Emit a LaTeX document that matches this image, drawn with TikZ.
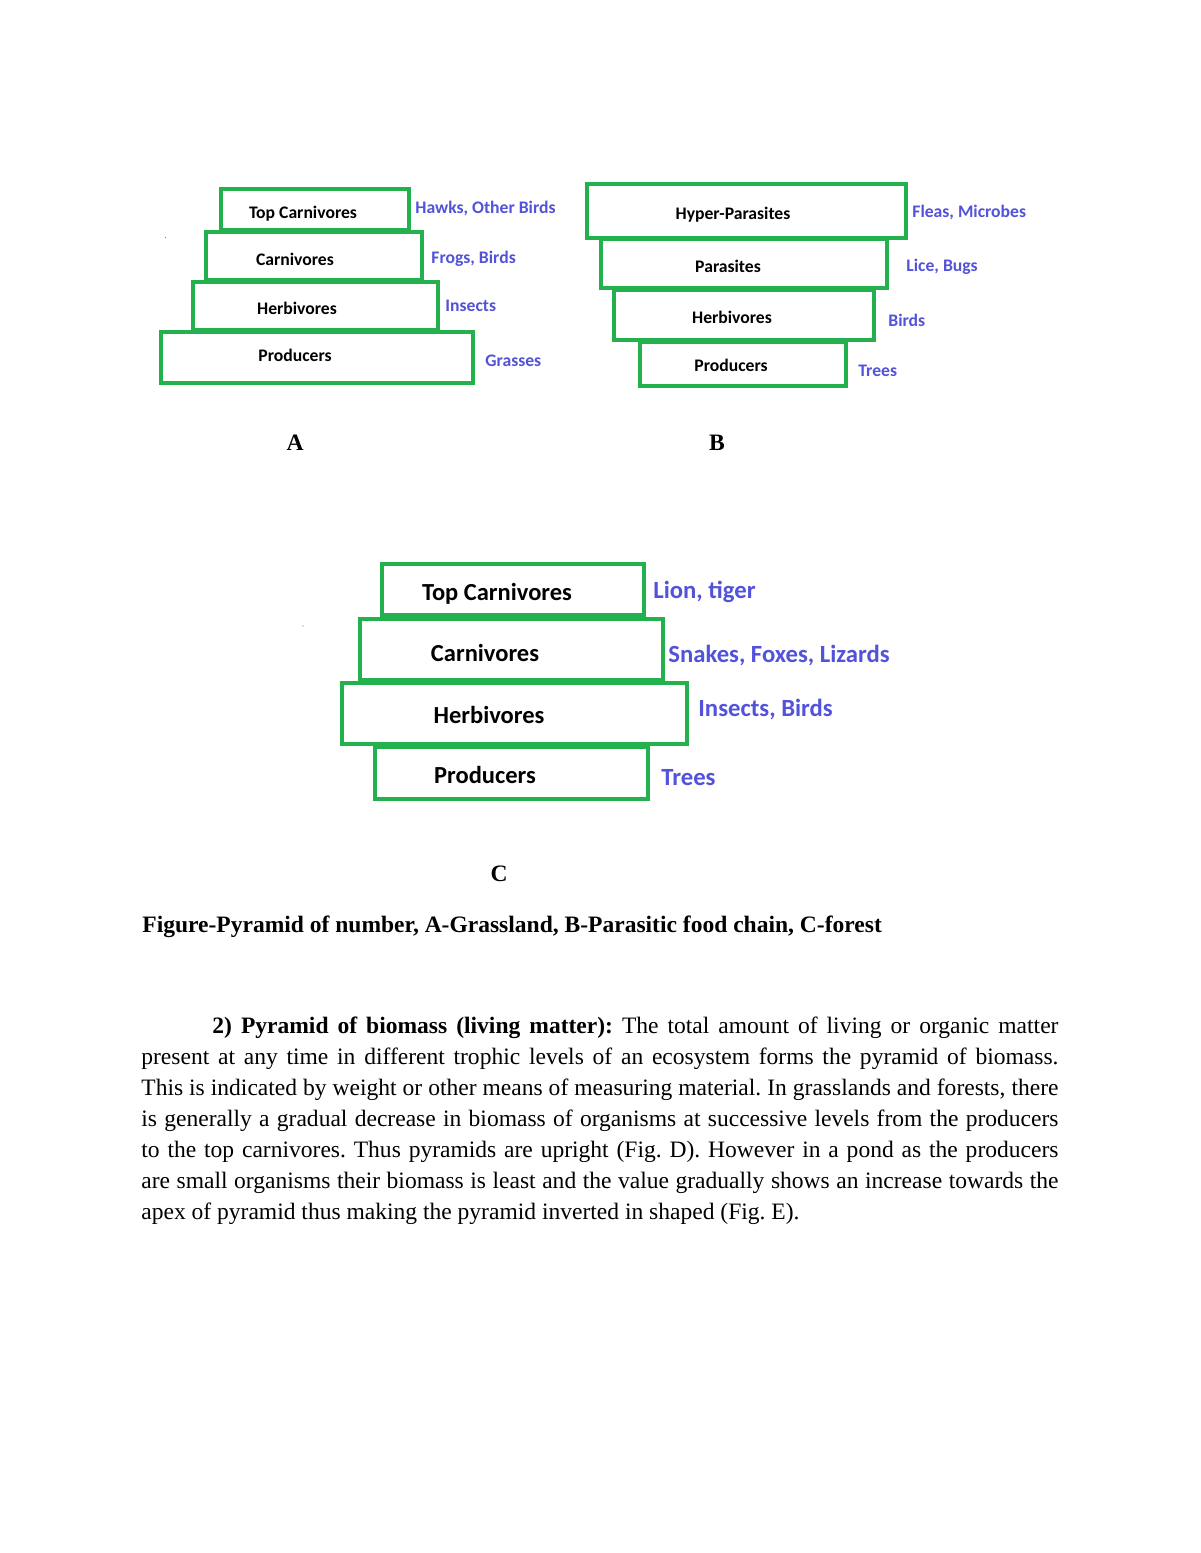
\documentclass[tikz,border=0pt]{standalone}
\usepackage{fontspec}
\setmainfont{Liberation Serif}
\newfontfamily\carl{Carlito}
\definecolor{pgreen}{RGB}{34,177,76}
\definecolor{plabel}{RGB}{82,82,218}
\tikzset{
  pboxA/.style={draw=pgreen, line width=1.7pt, inner sep=0pt},
  pboxC/.style={draw=pgreen, line width=2.1pt, inner sep=0pt},
  ttA/.style={anchor=mid, inner sep=0pt, yshift=-0.8pt, font=\carl\bfseries\fontsize{9}{10}\selectfont},
  lbA/.style={anchor=mid west, inner sep=0pt, yshift=-0.8pt, text=plabel, font=\carl\bfseries\fontsize{9}{10}\selectfont},
  ttC/.style={anchor=mid, inner sep=0pt, yshift=-1.5pt, font=\carl\bfseries\fontsize{12.5}{14}\selectfont},
  lbC/.style={anchor=mid west, inner sep=0pt, yshift=-1.5pt, text=plabel, font=\carl\bfseries\fontsize{12.6}{14}\selectfont},
  fig/.style={anchor=base, inner sep=0pt, font=\bfseries\fontsize{12}{14}\selectfont},
  body/.style={anchor=base west, inner sep=0pt, yshift=-0.8pt, font=\fontsize{12}{15.8}\selectfont\frenchspacing},
}
\newcommand\pbx[6]{\node[#6, minimum width={(#4-#2)*0.51pt}, minimum height={(#5-#3)*0.51pt}] (#1) at ({(#2+#4)/2},{(#3+#5)/2}) {};}
\begin{document}
\begin{tikzpicture}[x=0.51pt,y=-0.51pt]
\useasboundingbox[fill=white] (0,0) rectangle (1200,1553);
% ---------- Pyramid A ----------
\pbx{a1}{221}{189}{409}{230}{pboxA}
\pbx{a2}{206}{232}{422}{280}{pboxA}
\pbx{a3}{193}{282}{438}{330}{pboxA}
\pbx{a4}{161}{332}{473}{383}{pboxA}
\node[ttA] (ta1) at (303,212) {Top Carnivores};
\node[ttA] (ta2) at (295,259) {Carnivores};
\node[ttA] (ta3) at (297,308) {Herbivores};
\node[ttA] (ta4) at (295,355) {Producers};
\node[lbA] (la1) at (415,207) {Hawks, Other Birds};
\node[lbA] (la2) at (431,257) {Frogs, Birds};
\node[lbA] (la3) at (445,305) {Insects};
\node[lbA] (la4) at (485,360) {Grasses};
\fill[pgreen] (165.5,237.5) circle (0.7);
% ---------- Pyramid B ----------
\pbx{b1}{587}{184}{906}{238}{pboxA}
\pbx{b2}{601}{239}{887}{288}{pboxA}
\pbx{b3}{614}{290}{874}{340}{pboxA}
\pbx{b4}{640}{342}{846}{386}{pboxA}
\node[ttA] (tb1) at (733,213) {Hyper-Parasites};
\node[ttA] (tb2) at (728,266) {Parasites};
\node[ttA] (tb3) at (732,317) {Herbivores};
\node[ttA] (tb4) at (731,365) {Producers};
\node[lbA] (lb1) at (912,211) {Fleas, Microbes};
\node[lbA] (lb2) at (906,265) {Lice, Bugs};
\node[lbA] (lb3) at (888,320) {Birds};
\node[lbA] (lb4) at (858,370) {Trees};
% ---------- Pyramid C ----------
\pbx{c1}{382}{564}{644}{615}{pboxC}
\pbx{c4}{375}{747}{648}{799}{pboxC}
\pbx{c2}{360}{619}{663}{680}{pboxC}
\pbx{c3}{342}{683}{687}{744}{pboxC}
\node[ttC] (tc1) at (497,593) {Top Carnivores};
\node[ttC] (tc2) at (485,654) {Carnivores};
\node[ttC] (tc3) at (489,716) {Herbivores};
\node[ttC] (tc4) at (485,776) {Producers};
\node[lbC] (lc1) at (653,591) {Lion, tiger};
\node[lbC] (lc2) at (668,655) {Snakes, Foxes, Lizards};
\node[lbC] (lc3) at (698,709) {Insects, Birds};
\node[lbC] (lc4) at (661,778) {Trees};
\fill[pgreen] (303,626) circle (0.7);
% ---------- letters and caption ----------
\node[fig] (lA) at (295,450) {A};
\node[fig] (lB) at (717,450) {B};
\node[fig] (lC) at (499,881) {C};
\node[fig, anchor=base west] (cap) at (142,932) {Figure-Pyramid of number, A-Grassland, B-Parasitic food chain, C-forest};
% ---------- body text ----------
\node[body] (p1) at (212,1032) {\makebox[431.5pt][s]{\textbf{2) Pyramid of biomass (living matter):} The total amount of living or organic matter}};
\node[body] (p2) at (141,1063) {\makebox[467.7pt][s]{present at any time in different trophic levels of an ecosystem forms the pyramid of biomass.}};
\node[body] (p3) at (141,1094) {\makebox[467.7pt][s]{This is indicated by weight or other means of measuring material. In grasslands and forests, there}};
\node[body] (p4) at (141,1125) {\makebox[467.7pt][s]{is generally a gradual decrease in biomass of organisms at successive levels from the producers}};
\node[body] (p5) at (141,1156) {\makebox[467.7pt][s]{to the top carnivores. Thus pyramids are upright (Fig. D). However in a pond as the producers}};
\node[body] (p6) at (141,1187) {\makebox[467.7pt][s]{are small organisms their biomass is least and the value gradually shows an increase towards the}};
\node[body] (p7) at (141,1218) {apex of pyramid thus making the pyramid inverted in shaped (Fig. E).};
\end{tikzpicture}
\end{document}
